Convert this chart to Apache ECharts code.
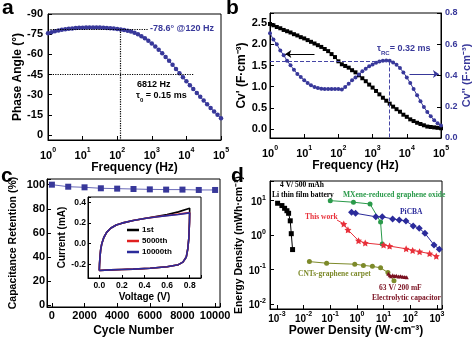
<!DOCTYPE html>
<html><head><meta charset="utf-8">
<script src="https://cdn.jsdelivr.net/npm/echarts@6/dist/echarts.min.js"></script>
<style>html,body{margin:0;padding:0;background:#fff}#c{width:474px;height:338px}</style>
</head><body><div id="c"></div>
<script>
// ---------- data ----------
const freqA = [1,1.26,1.58,2,2.51,3.16,3.98,5.01,6.31,7.94,10,12.6,15.8,20,25.1,31.6,39.8,50.1,63.1,79.4,100,126,158,200,251,316,398,501,631,794,1000,1260,1580,2000,2510,3160,3980,5010,6310,7940,10000,12600,15800,20000,25100,31600,39800,50100,63100,79400,100000];
const phaseA = [-75.6,-76.4,-77.1,-77.7,-78.2,-78.6,-79.0,-79.3,-79.5,-79.7,-79.8,-79.9,-80.0,-80.0,-80.0,-79.9,-79.8,-79.6,-79.4,-79.2,-78.9,-78.5,-78.1,-77.6,-76.9,-76.0,-74.9,-73.5,-71.9,-70.1,-68.1,-65.9,-63.5,-60.9,-58.1,-55.2,-52.2,-49.1,-46.0,-42.9,-40.0,-37.1,-34.2,-31.3,-28.4,-25.6,-22.8,-20.1,-17.5,-15.0,-12.5];
const freqB = freqA;
const cvReal = [2.48,2.45,2.41,2.38,2.34,2.31,2.28,2.24,2.21,2.17,2.14,2.10,2.06,2.02,1.98,1.94,1.89,1.84,1.77,1.70,1.60,1.53,1.49,1.45,1.39,1.34,1.27,1.20,1.13,1.05,0.98,0.90,0.82,0.74,0.67,0.60,0.53,0.47,0.41,0.34,0.29,0.23,0.19,0.15,0.12,0.09,0.06,0.05,0.04,0.03,0.02];
const cvImag = [0.67,0.63,0.60,0.56,0.53,0.495,0.465,0.437,0.41,0.39,0.37,0.352,0.337,0.326,0.32,0.316,0.314,0.314,0.314,0.314,0.314,0.31,0.326,0.348,0.369,0.388,0.407,0.427,0.444,0.459,0.471,0.482,0.489,0.494,0.496,0.495,0.484,0.469,0.448,0.42,0.388,0.352,0.314,0.273,0.235,0.198,0.166,0.139,0.113,0.095,0.08];
const cycles = [0,1000,2000,3000,4000,5000,6000,7000,8000,9000,10000];
const retention = [100,98.3,97.8,97.0,96.7,96.4,96.1,95.9,95.9,95.6,95.6];
const cvVolt = [0,0.002,0.006,0.012,0.022,0.04,0.065,0.1,0.15,0.2,0.3,0.4,0.5,0.6,0.7,0.8,0.798,0.792,0.783,0.77,0.74,0.7,0.6,0.45,0.3,0.2,0.1,0.0];
const cur1st   = [-0.262,-0.2,-0.13,-0.06,0.0,0.06,0.11,0.15,0.182,0.2,0.225,0.245,0.265,0.285,0.31,0.345,0.22,0.05,-0.05,-0.13,-0.18,-0.205,-0.225,-0.24,-0.248,-0.252,-0.256,-0.262];
const cur5000  = [-0.262,-0.2,-0.13,-0.06,0.0,0.06,0.11,0.15,0.182,0.2,0.225,0.245,0.261,0.275,0.288,0.303,0.2,0.05,-0.05,-0.13,-0.18,-0.205,-0.225,-0.24,-0.248,-0.252,-0.256,-0.262];
const cur10000 = [-0.262,-0.2,-0.13,-0.06,0.0,0.06,0.11,0.15,0.182,0.2,0.225,0.245,0.26,0.273,0.285,0.30,0.2,0.05,-0.05,-0.13,-0.18,-0.205,-0.225,-0.24,-0.248,-0.252,-0.256,-0.262];
const legendCV = ['1st','5000th','10000th'];
// Ragone plot
const liP = [0.00106,0.00154,0.00194,0.00237,0.00274,0.00316,0.00345,0.00386];
const liE = [8.4,7.2,6.0,5.1,4.3,2.6,1.1,0.38];
const mxP = [0.1,0.74,3.1,7.7,8.9];
const mxE = [10,9.0,8.0,2.4,0.55];
const piP = [0.63,0.89,5.1,8.9,21.8,38.6,69,129,217,355,776,1230];
const piE = [4.6,4.3,3.4,3.4,2.95,2.76,2.57,1.85,1.58,1.13,0.52,0.39];
const twP = [0.32,0.46,1.15,2.05,10,16.8,70,123,224,531,944];
const twE = [2.1,1.42,0.69,0.59,0.52,0.48,0.40,0.36,0.33,0.29,0.245];
const cnP = [0.0165,0.073,0.83,1.75,3.8,7.7,14.5,24.5];
const cnE = [0.17,0.153,0.143,0.132,0.124,0.112,0.082,0.047];
const ecP = [15,17,19,22,26,30,36,43,52,62,74];
const ecE = [0.075,0.068,0.064,0.068,0.065,0.066,0.063,0.064,0.062,0.061,0.060];

// ---------- helpers ----------
const FONT = 'Liberation Sans, Arial, sans-serif';
const SERIF = 'Liberation Serif, Times New Roman, serif';
const BLUE = '#38389a';
const zip = (a, b) => a.map((v, i) => [v, b[i]]);
const powLabel = v => { const l = Math.log10(v), e = Math.round(l); return Math.abs(l - e) > 1e-3 ? '' : '{b|10}{s|' + e + '}'; };
const powRich = fs => ({ b:{fontSize:fs,fontWeight:'bold',fontFamily:FONT,color:'#000',verticalAlign:'bottom',lineHeight:fs+3},
                         s:{fontSize:Math.round(fs*0.65),fontWeight:'bold',fontFamily:FONT,color:'#000',verticalAlign:'top',lineHeight:Math.round(fs*0.65)+1} });
const stepLabel = (step, dec) => v => { const r = v / step; return Math.abs(r - Math.round(r)) < 1e-6 ? v.toFixed(dec) : ''; };
const line = {show:true,onZero:false,lineStyle:{color:'#000',width:1}};
const tick = {show:true,inside:true,length:4,lineStyle:{color:'#000',width:1}};
const nameStyle = fs => ({color:'#000',fontWeight:'bold',fontSize:fs,fontFamily:FONT});
const lbl = (fs, margin, extra) => Object.assign({color:'#000',fontWeight:'bold',fontSize:fs,fontFamily:FONT,margin:margin}, extra || {});
const frame = {show:true,borderColor:'#000',borderWidth:1};

const option = {
  animation:false,
  backgroundColor:'#fff',
  textStyle:{fontFamily:FONT},
  grid:[
    Object.assign({left:48,top:14,width:173,height:126},frame),
    Object.assign({left:270,top:13,width:171,height:125},frame),
    Object.assign({left:47,top:179,width:173,height:129},frame),
    Object.assign({left:270,top:181,width:172,height:128},frame),
    Object.assign({left:88,top:197,width:113,height:81,backgroundColor:'#fff'},frame)
  ],
  xAxis:[
    {gridIndex:0,type:'log',logBase:10,min:1,max:100000,axisLine:line,axisTick:tick,splitLine:{show:false},
     axisLabel:lbl(11,7,{formatter:powLabel,rich:powRich(11)}),
     name:'Frequency (Hz)',nameLocation:'middle',nameGap:20,nameTextStyle:nameStyle(12)},
    {gridIndex:1,type:'log',logBase:10,min:1,max:100000,axisLine:line,axisTick:tick,splitLine:{show:false},
     axisLabel:lbl(11,7,{formatter:powLabel,rich:powRich(11)}),
     name:'Frequency (Hz)',nameLocation:'middle',nameGap:20,nameTextStyle:nameStyle(12)},
    {gridIndex:2,type:'value',min:-300,max:10300,axisLine:line,axisTick:tick,splitLine:{show:false},
     axisLabel:lbl(11,3,{formatter:stepLabel(2000,0)}),
     name:'Cycle Number',nameLocation:'middle',nameGap:18,nameTextStyle:nameStyle(12)},
    {gridIndex:3,type:'log',logBase:10,min:0.00055,max:1549,axisLine:line,axisTick:tick,splitLine:{show:false},
     axisLabel:lbl(10,2,{formatter:powLabel,rich:powRich(10)}),
     name:'Power Density (W\u00b7cm\u207b\u00b3)',nameLocation:'middle',nameGap:14,nameTextStyle:nameStyle(12)},
    {gridIndex:4,type:'value',min:-0.1,max:0.9,axisLine:line,axisTick:{show:true,inside:true,length:3,lineStyle:{color:'#000'}},splitLine:{show:false},
     axisLabel:lbl(8.5,3,{formatter:stepLabel(0.2,1)}),
     name:'Voltage (V)',nameLocation:'middle',nameGap:14,nameTextStyle:nameStyle(10)}
  ],
  yAxis:[
    {gridIndex:0,type:'value',inverse:true,min:-90,max:3.7,interval:15,axisLine:line,axisTick:tick,splitLine:{show:false},
     axisLabel:lbl(11,5,{formatter:v => (Math.abs(v % 15) < 1e-6 ? String(v) : '')}),
     name:'Phase Angle (\u00b0)',nameLocation:'middle',nameGap:24,nameTextStyle:nameStyle(12)},
    {gridIndex:1,type:'value',min:-0.21,max:2.74,axisLine:line,axisTick:tick,splitLine:{show:false},
     axisLabel:lbl(11,3,{formatter:stepLabel(0.5,1)}),
     name:"Cv' (F\u00b7cm\u207b\u00b3)",nameLocation:'middle',nameGap:18,nameTextStyle:nameStyle(12)},
    {gridIndex:1,type:'value',position:'right',min:0,max:0.8,interval:0.2,axisLine:line,axisTick:tick,splitLine:{show:false},
     axisLabel:lbl(9,4,{color:BLUE,formatter:v => v.toFixed(1)}),
     name:"Cv'' (F\u00b7cm\u207b\u00b3)",nameLocation:'middle',nameGap:16,nameTextStyle:Object.assign(nameStyle(11),{color:BLUE})},
    {gridIndex:2,type:'value',min:-1.5,max:104.7,axisLine:line,axisTick:tick,splitLine:{show:false},
     axisLabel:lbl(11,2,{formatter:stepLabel(20,0)}),
     name:'Capacitance Retention (%)',nameLocation:'middle',nameGap:28,nameTextStyle:nameStyle(10.5)},
    {gridIndex:3,type:'log',logBase:10,min:0.00716,max:37.2,axisLine:line,axisTick:tick,splitLine:{show:false},
     axisLabel:lbl(10,4,{formatter:powLabel,rich:powRich(10)}),
     name:'Energy Density (mWh\u00b7cm\u207b\u00b3)',nameLocation:'middle',nameGap:21,nameTextStyle:nameStyle(10.5)},
    {gridIndex:4,type:'value',min:-0.335,max:0.455,axisLine:line,axisTick:{show:true,inside:true,length:3,lineStyle:{color:'#000'}},splitLine:{show:false},
     axisLabel:lbl(8.5,2,{formatter:stepLabel(0.2,1)}),
     name:'Current (mA)',nameLocation:'middle',nameGap:16,nameTextStyle:nameStyle(10)}
  ],
  legend:{data:legendCV,left:127,top:226,orient:'vertical',icon:'rect',itemWidth:12,itemHeight:2.5,itemGap:3,padding:0,
          textStyle:{fontSize:8,fontWeight:'bold',fontFamily:FONT,color:'#000',padding:[0,0,0,-2]}},
  series:[
    {type:'line',xAxisIndex:0,yAxisIndex:0,data:zip(freqA,phaseA),symbol:'circle',symbolSize:4.5,
     itemStyle:{color:BLUE},lineStyle:{color:BLUE,width:1},
     markLine:{silent:true,symbol:['none','none'],label:{show:false},lineStyle:{type:'dotted',color:'#000',width:1.2},
       data:[[{coord:[1,-78.6]},{coord:[800,-78.6]}],[{coord:[120,-78.6]},{coord:[120,3.7]}],[{coord:[1,-45]},{coord:[16000,-45]}]]}},
    {type:'line',xAxisIndex:1,yAxisIndex:1,data:zip(freqB,cvReal),symbol:'rect',symbolSize:4,
     itemStyle:{color:'#000'},lineStyle:{color:'#000',width:1},
     markLine:{silent:true,symbol:['none','none'],label:{show:false},lineStyle:{type:'solid',color:'#000',width:1},
       data:[[{coord:[20,1.77]},{coord:[2.8,1.77],symbol:'arrow',symbolSize:6}]]}},
    {type:'line',xAxisIndex:1,yAxisIndex:2,data:zip(freqB,cvImag),symbol:'circle',symbolSize:4,
     itemStyle:{color:BLUE},lineStyle:{color:BLUE,width:1},
     markLine:{silent:true,symbol:['none','none'],label:{show:false},lineStyle:{type:'dashed',color:'#4545a5',width:1},
       data:[[{coord:[1,0.49]},{coord:[3125,0.49]}],[{coord:[3125,0.49]},{coord:[3125,0]}],
             [{coord:[12000,0.41],lineStyle:{type:'solid',color:BLUE}},{coord:[87000,0.41],symbol:'arrow',symbolSize:6}]]}},
    {type:'line',xAxisIndex:2,yAxisIndex:3,data:zip(cycles,retention),symbol:'rect',symbolSize:6,
     itemStyle:{color:BLUE},lineStyle:{color:'#6a6ab8',width:1}},
    {name:'1st',type:'line',xAxisIndex:4,yAxisIndex:5,data:zip(cvVolt,cur1st),showSymbol:false,symbol:'none',
     itemStyle:{color:'#000'},lineStyle:{color:'#000',width:1.6}},
    {name:'5000th',type:'line',xAxisIndex:4,yAxisIndex:5,data:zip(cvVolt,cur5000),showSymbol:false,symbol:'none',
     itemStyle:{color:'#e02020'},lineStyle:{color:'#e02020',width:1.6}},
    {name:'10000th',type:'line',xAxisIndex:4,yAxisIndex:5,data:zip(cvVolt,cur10000),showSymbol:false,symbol:'none',
     itemStyle:{color:'#2b2b9b'},lineStyle:{color:'#2b2b9b',width:1.6}},
    {type:'line',xAxisIndex:3,yAxisIndex:4,data:zip(liP,liE),symbol:'rect',symbolSize:5,itemStyle:{color:'#000'},lineStyle:{color:'#000',width:1}},
    {type:'line',xAxisIndex:3,yAxisIndex:4,data:zip(mxP,mxE),symbol:'circle',symbolSize:5,itemStyle:{color:'#2a9a4a'},lineStyle:{color:'#2a9a4a',width:1}},
    {type:'line',xAxisIndex:3,yAxisIndex:4,data:zip(piP,piE),symbol:'diamond',symbolSize:7,itemStyle:{color:'#2b2b9b'},lineStyle:{color:'#2b2b9b',width:1}},
    {type:'line',xAxisIndex:3,yAxisIndex:4,data:zip(twP,twE),symbol:'path://M0,-10L2.9,-4L9.5,-3.1L4.8,1.5L5.9,8.1L0,5L-5.9,8.1L-4.8,1.5L-9.5,-3.1L-2.9,-4Z',symbolSize:7,itemStyle:{color:'#e8303a'},lineStyle:{color:'#e8303a',width:1}},
    {type:'line',xAxisIndex:3,yAxisIndex:4,data:zip(cnP,cnE),symbol:'circle',symbolSize:5,itemStyle:{color:'#7d8a2a'},lineStyle:{color:'#7d8a2a',width:1}},
    {type:'line',xAxisIndex:3,yAxisIndex:4,data:zip(ecP,ecE),symbol:'triangle',symbolSize:4,itemStyle:{color:'#7a1020'},lineStyle:{color:'#7a1020',width:1.5}}
  ],
  graphic:[
    ...[['a',2,-2],['b',226,-2],['c',1,166],['d',231,166]].map(([t,x,y]) => ({type:'text',x:x,y:y,z:10,style:{text:t,fill:'#000',font:'bold 21px '+FONT}})),
    {type:'text',x:150,y:29,style:{text:'-78.6\u00b0 @120 Hz',fill:BLUE,font:'bold 9px '+FONT,verticalAlign:'middle',textVerticalAlign:'middle'}},
    {type:'text',x:137,y:85,style:{text:'6812 Hz',fill:'#000',font:'bold 9px '+FONT,verticalAlign:'middle',textVerticalAlign:'middle'}},
    {type:'text',x:136,y:97,style:{text:'{t|\u03c4}{s|0}{t| = 0.15 ms}',verticalAlign:'middle',textVerticalAlign:'middle',
      rich:{t:{fontSize:9,fontWeight:'bold',fontFamily:FONT,fill:'#000',color:'#000',verticalAlign:'top',lineHeight:12},
            s:{fontSize:6,fontWeight:'bold',fontFamily:FONT,fill:'#000',color:'#000',verticalAlign:'bottom',lineHeight:7}}}},
    {type:'text',x:377,y:50,style:{text:'{t|\u03c4}{s|RC}{t|= 0.32 ms}',verticalAlign:'middle',textVerticalAlign:'middle',
      rich:{t:{fontSize:9,fontWeight:'bold',fontFamily:FONT,fill:BLUE,color:BLUE,verticalAlign:'top',lineHeight:12},
            s:{fontSize:6,fontWeight:'bold',fontFamily:FONT,fill:BLUE,color:BLUE,verticalAlign:'bottom',lineHeight:7}}}},
    ...[['4 V/ 500 mAh',280,185,'#000'],['Li thin film battery',272,195,'#000'],['MXene-reduced graphene oxide',343,195,'#2a9a4a'],
        ['PiCBA',400,212,'#2b2b9b'],['This work',305,217,'#e8303a'],['CNTs-graphene carpet',298,274,'#7d8a2a'],
        ['63 V/ 200 mF',379,288,'#7a1020'],['Electrolytic capacitor',372,298,'#7a1020']]
      .map(([t,x,y,c]) => ({type:'text',x:x,y:y,z:10,style:{text:t,fill:c,font:'bold 7.5px '+SERIF,verticalAlign:'middle',textVerticalAlign:'middle'}})),
    {type:'line',shape:{x1:337,y1:220,x2:343,y2:223.5},style:{stroke:'#e8303a',lineWidth:1}}
  ]
};
const chart = echarts.init(document.getElementById('c'), null, {renderer:'canvas'});
chart.setOption(option);
</script></body></html>
